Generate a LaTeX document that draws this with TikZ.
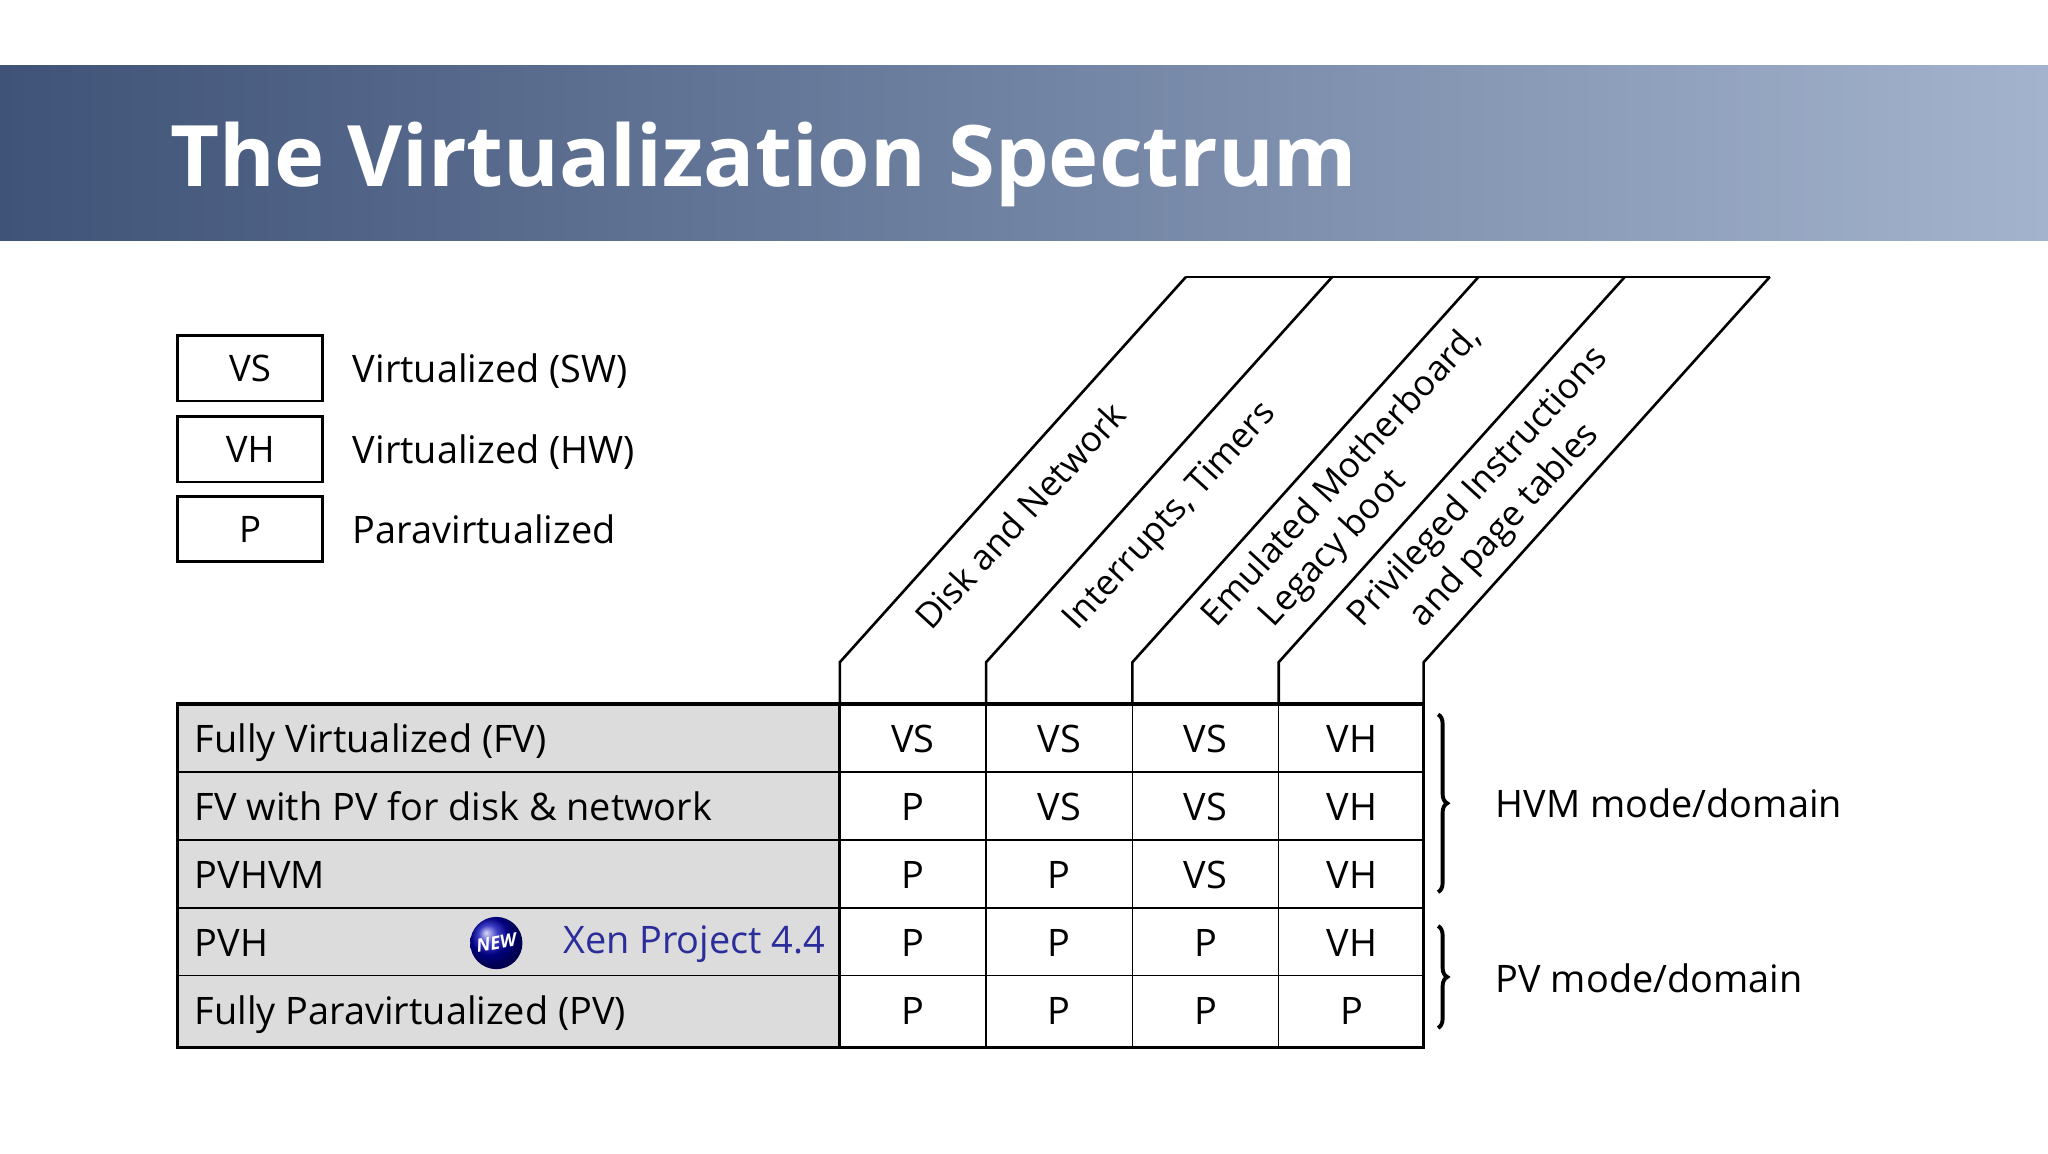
\documentclass[tikz,border=0pt]{standalone}
\usepackage{fontspec}
\setmainfont{Open Sans}
\usetikzlibrary{decorations.pathreplacing,shadings}
\definecolor{hdrL}{HTML}{3F5378}
\definecolor{hdrR}{HTML}{A3B3CD}
\definecolor{cellgray}{HTML}{DCDCDC}
\definecolor{xenblue}{HTML}{2B2E9A}
\begin{document}
\begin{tikzpicture}[x=1pt,y=-1pt,
  tl/.style={font=\fontsize{29}{31}\selectfont,inner sep=0pt},
  cl/.style={font=\fontsize{29}{31}\selectfont,inner sep=0pt},
  hd/.style={font=\fontsize{27}{29}\selectfont,rotate=47.5,anchor=base west,inner sep=0pt},
  lbox/.style={draw,line width=2.2pt,minimum width=111pt,minimum height=50pt,font=\fontsize{28}{30}\selectfont,inner sep=0pt},
  grid/.style={line width=1.2pt},
  frame/.style={line width=2.4pt},
  brc/.style={line width=3pt,decorate,decoration={brace,amplitude=7pt}}]
\useasboundingbox (0,0) rectangle (1568,883);
\fill[white] (0,0) rectangle (1568,883);
\shade[left color=hdrL,right color=hdrR] (0,50) rectangle (1568,184);
\node[anchor=base west,text=white,font=\fontsize{65}{70}\selectfont\bfseries,inner sep=0pt] (title) at (130,143) {The Virtualization Spectrum};
% legend
\node[lbox] (l1) at (191.5,282) {VS};
\node[lbox] (l2) at (191.5,344) {VH};
\node[lbox] (l3) at (191.5,405) {P};
\node[tl,anchor=base west] (t1) at (270,293) {Virtualized (SW)};
\node[tl,anchor=base west] (t2) at (270,355) {Virtualized (HW)};
\node[tl,anchor=base west] (t3) at (270,416) {Paravirtualized};
% table
\fill[cellgray] (136,539) rectangle (643,802);
\foreach \y in {591,643,695,747} \draw[grid] (136,\y) -- (1090,\y);
\foreach \x in {755,867,979} \draw[grid] (\x,539) -- (\x,802);
\draw[frame] (136,539) rectangle (1090,802);
\draw[frame] (643,539) -- (643,802);
% slanted header
\foreach \x in {643,755,867,979,1090} \draw[line width=2pt] (\x,539) -- (\x,507) -- (\x+265,212);
\draw[line width=2pt] (908,212) -- (1355,212);
\node[hd] (h1) at (713,484) {Disk and Network};
\node[hd] (h2) at (825,484) {Interrupts, Timers};
\node[hd] (h3a) at (931,481) {Emulated Motherboard,};
\node[hd] (h3b) at (975,481) {Legacy boot};
\node[hd] (h4a) at (1043,481) {Privileged Instructions};
\node[hd] (h4b) at (1090,481) {and page tables};
% rows
\node[cl,anchor=base west] (r1) at (149,576) {Fully Virtualized (FV)};
\node[cl,anchor=base west] (r2) at (149,628) {FV with PV for disk \& network};
\node[cl,anchor=base west] (r3) at (149,680) {PVHVM};
\node[cl,anchor=base west] (r4) at (149,732) {PVH};
\node[cl,anchor=base west] (r5) at (149,784) {Fully Paravirtualized (PV)};
\shade[ball color=blue!70!black] (380,722) circle (20);
\node[font=\fontsize{14}{15}\selectfont\bfseries\itshape,text=white,rotate=10] (new) at (380,722) {NEW};
\node[cl,anchor=base west,text=xenblue] (xen) at (431,730) {Xen Project 4.4};
\foreach \a/\b/\c/\d [count=\i] in {VS/VS/VS/VH,P/VS/VS/VH,P/P/VS/VH,P/P/P/VH,P/P/P/P}{
  \pgfmathsetmacro\yy{539+52*(\i-1)+37}
  \node[cl,anchor=base] (c\i a) at (699,\yy) {\a};
  \node[cl,anchor=base] (c\i b) at (811,\yy) {\b};
  \node[cl,anchor=base] (c\i c) at (923,\yy) {\c};
  \node[cl,anchor=base] (c\i d) at (1035,\yy) {\d};
}
% braces
\draw[brc] (1101,547) -- (1101,683);
\draw[brc] (1101,709) -- (1101,787);
\node[tl,anchor=base west] (b1) at (1145,626) {HVM mode/domain};
\node[tl,anchor=base west] (b2) at (1145,760) {PV mode/domain};
\end{tikzpicture}
\end{document}
